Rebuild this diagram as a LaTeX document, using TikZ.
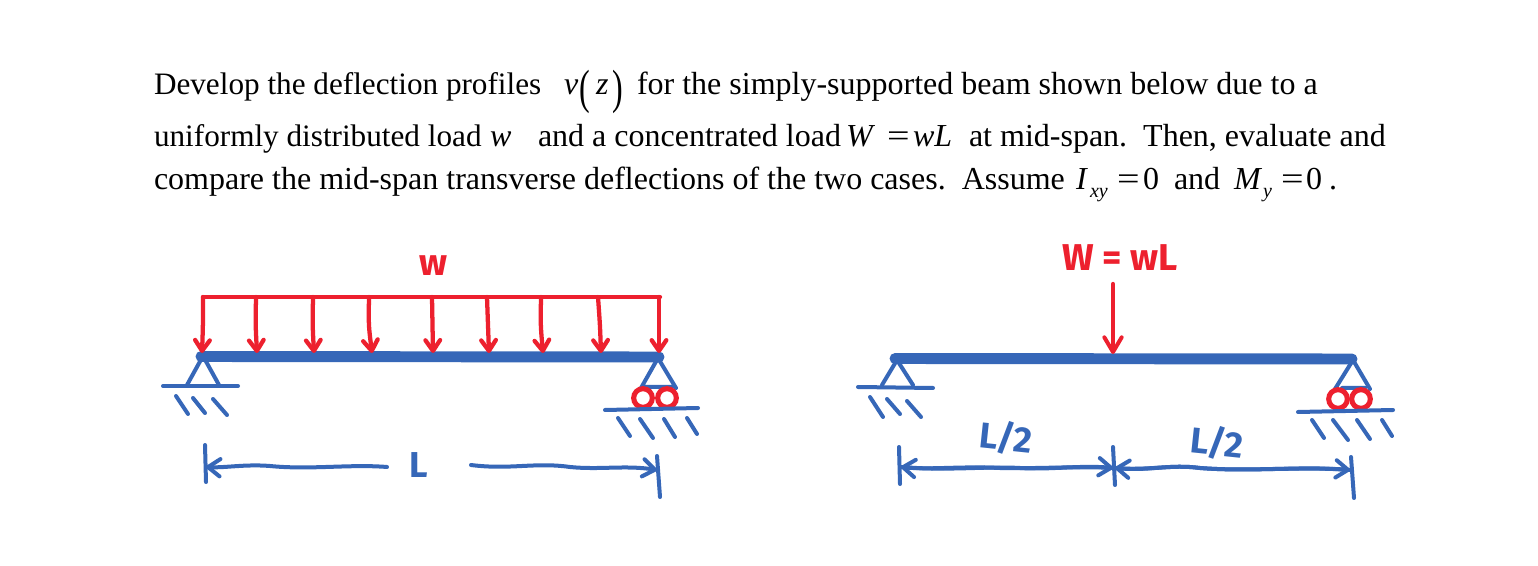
\documentclass[tikz,border=0pt]{standalone}
\usepackage{fontspec}
\setmainfont{Liberation Serif}
\newfontfamily\handfont{Fira Sans}
\usetikzlibrary{arrows.meta,calc}
\definecolor{bbeam}{RGB}{54,103,184}
\definecolor{rload}{RGB}{237,32,46}
\tikzset{
 x=0.75pt,y=-0.75pt,
 txt/.style={anchor=base west,inner sep=0pt,outer sep=0pt,font=\fontsize{24}{28}\selectfont},
 txtnarrow/.style={anchor=base west,inner sep=0pt,outer sep=0pt,font=\fontsize{23.4}{28}\selectfont},
 subtxt/.style={anchor=base west,inner sep=0pt,outer sep=0pt,font=\fontsize{15}{17}\selectfont},
 beam/.style={draw=bbeam,line width=8.2pt,line cap=round},
 sketch/.style={draw=bbeam,line width=3pt,line cap=round,line join=round},
 redline/.style={draw=rload,line width=3.2pt,line cap=round,line join=round},
 roller/.style={circle,draw=rload,line width=3.8pt,fill=white,minimum size=14pt,inner sep=0pt},
 handred/.style={text=rload,font=\handfont\bfseries\fontsize{28}{30}\selectfont,inner sep=0pt},
 handblue/.style={text=bbeam,font=\handfont\bfseries\fontsize{27}{30}\selectfont,inner sep=0pt},
 loadtip/.style={-{Straight Barb[round,length=8pt,width=11pt,line width=3.2pt]}},
 bigtip/.style={-{Straight Barb[round,length=11pt,width=13pt,line width=3pt]}},
 dimtip/.style={-{Straight Barb[round,length=9pt,width=13pt,line width=3pt]}},
}
\newcommand{\hatchmark}[4]{\draw[sketch] (#1,#2) -- (#3,#4);}
\newcommand{\tallparen}[1]{\scalebox{1}[1.5]{#1}}
\newcommand{\wideeq}{\scalebox{1.25}[1]{=}}
\begin{document}
\begin{tikzpicture}
\useasboundingbox (0,0) rectangle (1538,566);
\fill[white] (0,0) rectangle (1538,566);
% problem statement
\node[txtnarrow] (l1a) at (154,95) {Develop the deflection profiles};
\node[txt] (l1v) at (564,95) {\textit{v}};
\node[txt] (l1p) at (579,104) {\tallparen{(}};
\node[txt] (l1z) at (596,95) {\textit{z}};
\node[txt] (l1q) at (612,104) {\tallparen{)}};
\node[txt] (l1c) at (637,95) {for the simply-supported beam shown below due to a};
\node[txtnarrow] (l2a) at (154,147) {uniformly distributed load};
\node[txt] (l2b) at (490,147) {\textit{w}};
\node[txt] (l2c) at (538,147) {and a concentrated load};
\node[txt] (l2d) at (846,147) {\textit{W}};
\node[txt] (l2e) at (887,147) {\wideeq};
\node[txt] (l2f) at (913,147) {\textit{wL}};
\node[txt] (l2g) at (969,147) {at mid-span.\ \ Then, evaluate and};
\node[txt] (l3a) at (154,190) {compare the mid-span transverse deflections of the two cases.\ \ Assume};
\node[txt] (l3b) at (1076,190) {\textit{I}};
\node[subtxt] (l3c) at (1090,198) {\textit{xy}};
\node[txt] (l3d) at (1117,190) {\wideeq};
\node[txt] (l3e) at (1143,190) {0};
\node[txt] (l3f) at (1174,190) {and};
\node[txt] (l3g) at (1234,190) {\textit{M}};
\node[subtxt] (l3h) at (1263,198) {\textit{y}};
\node[txt] (l3i) at (1281,190) {\wideeq};
\node[txt] (l3j) at (1306,190) {0};
\node[txt] (l3k) at (1329,190) {.};
% left beam
\coordinate (A1) at (201,356.5);
\coordinate (B1) at (659,357);
\coordinate (P1) at (203,356);
\coordinate (Q1) at (658,358);
\draw[beam] (A1) -- (B1);
\node[handred] (wlab) at (433,266) {w};
\draw[redline] (203,297) -- (660,297);
\foreach \xa/\xb/\xm/\n in {203/202/203/a,256/257/255.5/b,313/314/312.5/c,369/372/368.5/d,432/433/432.5/e,487/489/488/f,541/543/540.5/g,598/601/600/h,659/659/659/i}{
  \coordinate (t\n) at (\xa,297);
  \coordinate (m\n) at (\xm,325);
  \coordinate (h\n) at (\xb,353);
  \draw[redline,loadtip] (t\n) .. controls (m\n) .. (h\n);
}
% pin support beam 1
\draw[sketch] (P1) -- (187,385) (P1) -- (219,385);
\draw[sketch] (163,386) -- (238,386);
\hatchmark{176}{396}{188}{414}\hatchmark{193}{398}{205}{413}\hatchmark{213}{399}{227}{415}
% roller support beam 1
\draw[sketch] (Q1) -- (641,388) (Q1) -- (676,388) (645,387) -- (672,387);
\node[roller] (r1a) at (643,398) {};
\node[roller] (r1b) at (667,398) {};
\draw[sketch] (605,410) -- (698,408);
\hatchmark{618}{418}{630}{436}\hatchmark{640}{419}{653}{438}\hatchmark{664}{419}{675}{437}\hatchmark{687}{418}{697}{434}
% dimension beam 1
\node[handblue] (Llab) at (419,465) {L};
\coordinate (D1s) at (387,467);
\coordinate (D1a) at (206,467);
\coordinate (D1t) at (471,465);
\coordinate (D1b) at (657,470);
\draw[sketch] (205,445) -- (206,482);
\draw[sketch] (657,456) -- (660,497);
\draw[sketch,dimtip] (D1s) .. controls (350,464) and (310,470) .. (270,466) .. controls (245,464) and (225,468) .. (D1a);
\draw[sketch,dimtip] (D1t) .. controls (510,470) and (535,462) .. (570,467) .. controls (600,470) and (625,465) .. (D1b);
% right beam
\coordinate (A2) at (895,358.5);
\coordinate (B2) at (1352,359);
\coordinate (P2) at (897,360);
\coordinate (Q2) at (1353,360);
\draw[beam] (A2) -- (B2);
\node[handred] (Wlab) at (1120,258) {W = wL};
\coordinate (P) at (1113,284);
\coordinate (Ph) at (1113,354);
\draw[redline,bigtip] (P) -- (Ph);
\draw[sketch] (P2) -- (882,385) (P2) -- (913,385);
\draw[sketch] (858,387) -- (933,388);
\hatchmark{870}{397}{883}{417}\hatchmark{887}{399}{900}{414}\hatchmark{907}{401}{921}{417}
\draw[sketch] (Q2) -- (1335,389) (Q2) -- (1370,389) (1342,388) -- (1365,388);
\node[roller] (r2a) at (1338,399) {};
\node[roller] (r2b) at (1361,399) {};
\draw[sketch] (1298,412) -- (1393,410);
\hatchmark{1312}{420}{1324}{438}\hatchmark{1333}{420}{1348}{440}\hatchmark{1357}{420}{1370}{439}\hatchmark{1382}{420}{1392}{436}
% dimensions beam 2
\coordinate (Ma) at (1113,468);
\coordinate (Mb) at (1115,468);
\coordinate (E1) at (901,467);
\coordinate (E2) at (1350,470);
\draw[sketch] (899,447) -- (900,484);
\draw[sketch] (1113,447) -- (1115,485);
\draw[sketch] (1351,457) -- (1354,498);
\draw[sketch,dimtip] (E1) .. controls (950,471) and (985,466) .. (1020,468) .. controls (1050,470) and (1080,465) .. (Ma);
\draw[sketch,dimtip] (Ma) .. controls (1080,466) and (1030,469) .. (1000,468) .. controls (960,466) and (930,470) .. (E1);
\draw[sketch,dimtip] (Mb) .. controls (1150,471) and (1170,464) .. (1200,468) .. controls (1250,472) and (1300,466) .. (E2);
\draw[sketch,dimtip] (E2) .. controls (1300,466) and (1250,472) .. (1200,468) .. controls (1170,464) and (1150,471) .. (Mb);
\node[handblue,rotate=-6] (h1) at (1006,438) {L/2};
\node[handblue,rotate=-6] (h2) at (1217,443) {L/2};
\end{tikzpicture}
\end{document}
